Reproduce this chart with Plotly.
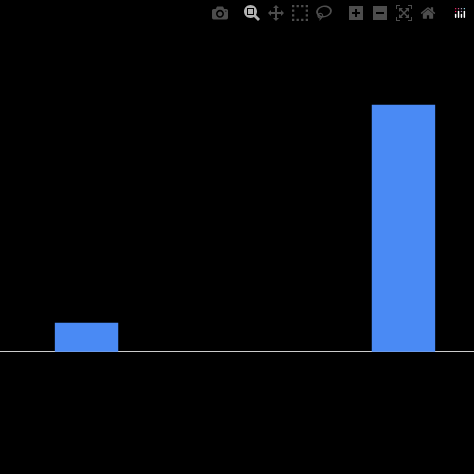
import plotly.graph_objects as go

categories = ["A", "B", "C"]
values = [2, None, 17]

fig = go.Figure(go.Bar(x=[0, 1, 2], y=values, marker_color="#4a8af4", width=0.4,
                       marker_line_width=0, hovertext=categories))
fig.update_layout(
    width=474, height=474, margin=dict(l=0, r=0, t=0, b=0),
    paper_bgcolor="black", plot_bgcolor="black", showlegend=False,
)
fig.update_xaxes(range=[-0.546, 2.445], visible=False)
fig.update_yaxes(range=[-8.4, 24.2], showgrid=False, showticklabels=False,
                 zeroline=True, zerolinecolor="#cccccc", zerolinewidth=1)
fig.write_html("out.html",
               post_script="document.body.style.margin='0';document.body.style.background='black';")
